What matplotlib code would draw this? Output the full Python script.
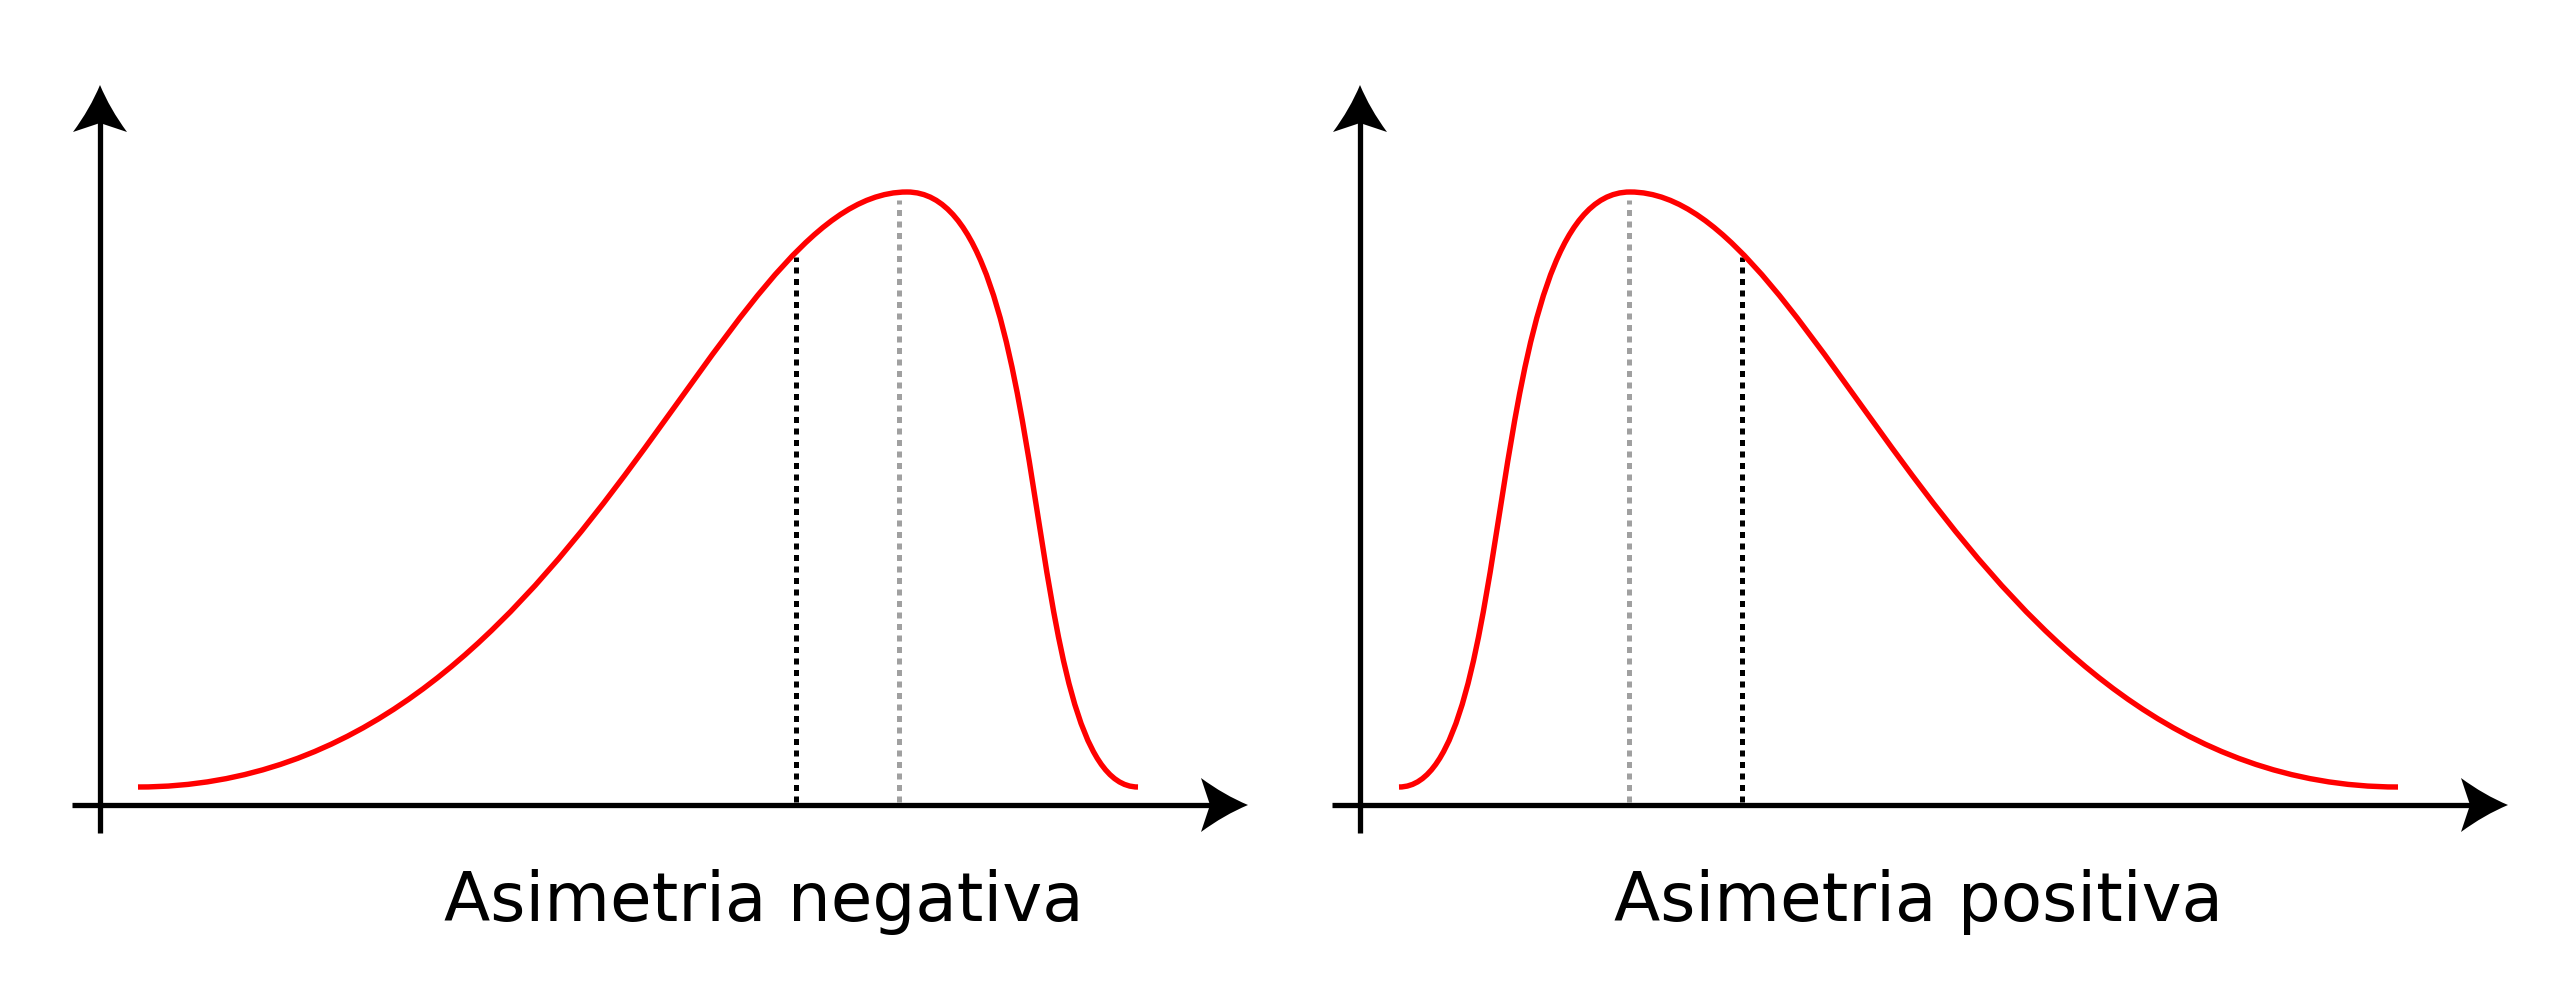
import matplotlib.pyplot as plt
from matplotlib.path import Path
from matplotlib.patches import PathPatch

# bezier control points of the two skewed curves (panel units, origin at the axes cross)
neg_curve_x = [38, 477, 612, 807, 959, 916, 1038]
neg_curve_y = [18, 18, 613, 613, 613, 18, 18]
pos_curve_x = [39, 161, 118, 270, 465, 600, 1038]
pos_curve_y = [18, 18, 613, 613, 613, 18, 18]

# dotted markers: black = mean, gray = mode (at the peak)
neg_mean_x, neg_mean_top = 696, 548
neg_mode_x, neg_mode_top = 799, 605
pos_mean_x, pos_mean_top = 382, 548
pos_mode_x, pos_mode_top = 269, 605

labels = ["Asimetria negativa", "Asimetria positiva"]

RED = "#ff0000"
GRAY = "#a0a0a0"
codes = [Path.MOVETO] + [Path.CURVE4] * 6


def arrow_head(ax, tip, direction):
    # concave-sided arrow head, local u = back from tip, v = sideways
    tx, ty = tip
    dx, dy = direction
    px, py = -dy, dx

    def pt(u, v):
        return (tx - u * dx + v * px, ty - u * dy + v * py)

    verts = [pt(0, 0), pt(24, 10), pt(47, 27), pt(38, 0), pt(47, -27), pt(24, -10), pt(0, 0)]
    c = [Path.MOVETO, Path.CURVE3, Path.CURVE3, Path.LINETO, Path.LINETO, Path.CURVE3, Path.CURVE3]
    ax.add_patch(PathPatch(Path(verts, c), facecolor="black", edgecolor="none", zorder=4))


def draw_panel(ax, cx, cy, mean_x, mean_top, mode_x, mode_top, label, label_x):
    # axes
    ax.plot([-28, 1115], [0, 0], color="black", lw=3.8, solid_capstyle="butt", zorder=3)
    ax.plot([0, 0], [-28, 685], color="black", lw=3.8, solid_capstyle="butt", zorder=3)
    arrow_head(ax, (1148, 0), (1, 0))
    arrow_head(ax, (0, 720), (0, 1))
    # dotted lines
    ax.plot([mean_x, mean_x], [3, mean_top], color="black", lw=3.6,
            linestyle=(0, (1.2, 1.1)), dash_capstyle="butt", zorder=2)
    ax.plot([mode_x, mode_x], [3, mode_top], color=GRAY, lw=3.6,
            linestyle=(0, (1.2, 1.1)), dash_capstyle="butt", zorder=2)
    # curve
    path = Path(list(zip(cx, cy)), codes)
    ax.add_patch(PathPatch(path, facecolor="none", edgecolor=RED, lw=3.9, zorder=3))
    ax.text(label_x, -116, label, ha="center", va="baseline", fontsize=48.7,
            family="DejaVu Sans", color="black")


fig = plt.figure(figsize=(25.6, 9.94), dpi=100)

ax1 = fig.add_axes([0, 0, 0.5, 1])
ax1.set_xlim(-100, 1180)
ax1.set_ylim(-189, 805)
ax1.axis("off")
draw_panel(ax1, neg_curve_x, neg_curve_y, neg_mean_x, neg_mean_top,
           neg_mode_x, neg_mode_top, labels[0], 664)

ax2 = fig.add_axes([0.5, 0, 0.5, 1])
ax2.set_xlim(-80, 1200)
ax2.set_ylim(-189, 805)
ax2.axis("off")
draw_panel(ax2, pos_curve_x, pos_curve_y, pos_mean_x, pos_mean_top,
           pos_mode_x, pos_mode_top, labels[1], 558)

fig.savefig("out.png", dpi=100, facecolor="white")
plt.close(fig)
